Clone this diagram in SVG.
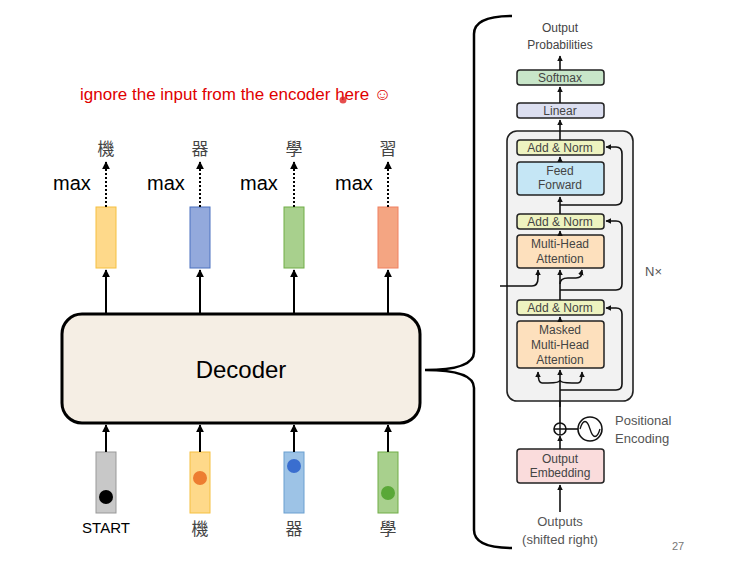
<svg xmlns="http://www.w3.org/2000/svg" width="741" height="571" viewBox="0 0 741 571">
<defs>
<marker id="ah" viewBox="0 0 10 10" refX="9" refY="5" markerWidth="4" markerHeight="4" orient="auto"><path d="M0,0L10,5L0,10z" fill="#000"/></marker>
<marker id="as" viewBox="0 0 10 10" refX="9" refY="5" markerWidth="3.5" markerHeight="3.5" orient="auto"><path d="M0,0L10,5L0,10z" fill="#111"/></marker>
</defs>
<style>
text{font-family:"Liberation Sans","Noto Sans CJK TC",sans-serif}
.cjk{font-family:"Noto Sans CJK TC",sans-serif;font-size:17px;fill:#444;text-anchor:middle}
.mx{font-size:20px;fill:#000}
.a{stroke:#000;stroke-width:2;fill:none;marker-end:url(#ah)}
.d{stroke:#000;stroke-width:2;stroke-dasharray:2 2;fill:none;marker-end:url(#ah)}
.t{stroke:#111;stroke-width:1.6;fill:none}
.ta{stroke:#111;stroke-width:1.6;fill:none;marker-end:url(#as)}
.bk{stroke:#222;stroke-width:1.5}
.s{font-size:12px;fill:#444;text-anchor:middle}
.g{font-size:13px;fill:#555}
</style>
<rect width="741" height="571" fill="#fff"/>
<text x="80" y="100" font-size="17" fill="#e00000">ignore the input from the encoder here ☺</text>
<circle cx="343" cy="100" r="3.5" fill="#e02020" opacity="0.8"/>

<g id="decoder"><rect x="62" y="314" width="358" height="109" rx="20" fill="#f5eee4" stroke="#000" stroke-width="3"/>
<text x="241" y="378" font-size="24" text-anchor="middle">Decoder</text></g>

<g id="outputs">
<rect x="96" y="207" width="20" height="61" fill="#fed98a" stroke="#f5c040"/>
<rect x="190" y="207" width="20" height="61" fill="#93a9dc" stroke="#4a70c0"/>
<rect x="284" y="207" width="20" height="61" fill="#a8d08d" stroke="#70ad47"/>
<rect x="378" y="207" width="20" height="61" fill="#f4a582" stroke="#f08060"/>
<text class="cjk" x="106" y="155">機</text><text class="cjk" x="200" y="155">器</text><text class="cjk" x="294" y="155">學</text><text class="cjk" x="388" y="155">習</text>
<text class="mx" x="53" y="190">max</text><text class="mx" x="147" y="190">max</text><text class="mx" x="240" y="190">max</text><text class="mx" x="335" y="190">max</text>
</g>
<g id="inputs">
<rect x="96" y="452" width="20" height="61" fill="#c8c8c8" stroke="#999"/><circle cx="106" cy="497" r="7" fill="#000"/>
<rect x="190" y="452" width="20" height="61" fill="#fed98a" stroke="#f5c040"/><circle cx="200" cy="478" r="7" fill="#ed7d31"/>
<rect x="284" y="452" width="20" height="61" fill="#9dc3e6" stroke="#6a9fd0"/><circle cx="294" cy="466" r="7" fill="#3a6ecf"/>
<rect x="378" y="452" width="20" height="61" fill="#a8d08d" stroke="#70ad47"/><circle cx="388" cy="493" r="7" fill="#5aa838"/>
<text x="106" y="533" font-size="15" text-anchor="middle">START</text>
<text class="cjk" x="200" y="535">機</text><text class="cjk" x="294" y="535">器</text><text class="cjk" x="388" y="535">學</text>
</g>
<g id="connectors">
<path class="a" d="M106,314V270"/><path class="a" d="M200,314V270"/><path class="a" d="M294,314V270"/><path class="a" d="M388,314V270"/>
<path class="d" d="M106,207V162"/><path class="d" d="M200,207V162"/><path class="d" d="M294,207V162"/><path class="d" d="M388,207V162"/>
<path class="a" d="M106,452V425"/><path class="a" d="M200,452V425"/><path class="a" d="M294,452V425"/><path class="a" d="M388,452V425"/>
<path d="M512,16Q474,16 474,34V352Q474,370 425,370Q474,370 474,388V530Q474,548 512,548" fill="none" stroke="#000" stroke-width="2.5"/>
</g>

<g id="transformer">
<rect x="507" y="131" width="126" height="270" rx="10" fill="#f2f2f2" stroke="#222" stroke-width="1.6"/>
<text class="s" x="560" y="32" font-size="13">Output</text><text class="s" x="560" y="49" font-size="13">Probabilities</text>
<rect class="bk" x="517" y="70" width="87" height="15" rx="3" fill="#c8e6c9"/><text class="s" x="560" y="82">Softmax</text>
<rect class="bk" x="517" y="103" width="87" height="15" rx="3" fill="#dcdff0"/><text class="s" x="560" y="115">Linear</text>
<rect class="bk" x="517" y="140" width="87" height="15" rx="3" fill="#eef3c0"/><text class="s" x="560" y="152">Add &amp; Norm</text>
<rect class="bk" x="517" y="162" width="87" height="33" rx="3" fill="#c5e6f5"/><text class="s" x="560" y="175">Feed</text><text class="s" x="560" y="189">Forward</text>
<rect class="bk" x="517" y="214" width="87" height="15" rx="3" fill="#eef3c0"/><text class="s" x="560" y="226">Add &amp; Norm</text>
<rect class="bk" x="517" y="235" width="87" height="33" rx="3" fill="#fde0bd"/><text class="s" x="560" y="248">Multi-Head</text><text class="s" x="560" y="263">Attention</text>
<rect class="bk" x="517" y="300" width="87" height="15" rx="3" fill="#eef3c0"/><text class="s" x="560" y="312">Add &amp; Norm</text>
<rect class="bk" x="517" y="321" width="87" height="47" rx="3" fill="#fde0bd"/><text class="s" x="560" y="334">Masked</text><text class="s" x="560" y="349">Multi-Head</text><text class="s" x="560" y="364">Attention</text>
<rect class="bk" x="517" y="449" width="87" height="34" rx="3" fill="#fadcdc"/><text class="s" x="560" y="463">Output</text><text class="s" x="560" y="477">Embedding</text>
<path class="ta" d="M560,70V56"/><path class="ta" d="M560,103V87"/><path class="ta" d="M560,140V120"/><path class="ta" d="M560,162V157"/><path class="ta" d="M560,214V197"/><path class="ta" d="M560,235V231"/><path class="ta" d="M560,321V317"/><path class="ta" d="M560,407V370"/><path class="ta" d="M560,449V436"/>
<path class="ta" d="M560,512V485"/>
<path class="t" d="M560,423V401"/>
<path class="ta" d="M560,380Q560,383 548,383H542Q538,383 538,372"/>
<path class="ta" d="M560,380Q560,383 572,383H578Q582,383 582,372"/>
<path class="ta" d="M560,390H616Q622,390 622,384V314Q622,308 616,308H606"/>
<path class="t" d="M560,300V284Q560,278 568,278H576Q582,278 582,272"/>
<path class="ta" d="M581,274L582,270"/>
<path class="ta" d="M560,284Q560,278 560,270"/>
<path class="ta" d="M560,290H616Q622,290 622,284V227Q622,221 616,221H606"/>
<path class="t" d="M500,286H532Q538,286 538,278V274"/>
<path class="ta" d="M538,276V270"/>
<path class="ta" d="M560,205H616Q622,205 622,199V154Q622,147 616,147H606"/>
<circle cx="560" cy="429" r="6" fill="#fff" stroke="#111" stroke-width="1.6"/><path d="M554,429H566M560,423V435" stroke="#111" stroke-width="1.4"/>
<path class="t" d="M566,429H578"/>
<circle cx="590" cy="429" r="12" fill="#fff" stroke="#111" stroke-width="1.6"/>
<path d="M580,429C583,419 587,419 590,429C593,439 597,439 600,429" fill="none" stroke="#111" stroke-width="1.3"/>
<text class="g" x="615" y="425">Positional</text><text class="g" x="615" y="443">Encoding</text>
<text class="g" x="560" y="526" text-anchor="middle">Outputs</text><text class="g" x="560" y="544" text-anchor="middle">(shifted right)</text>
<text class="g" x="645" y="276">N×</text>
<text x="672" y="550" font-size="11" fill="#777">27</text>
</g>
</svg>
